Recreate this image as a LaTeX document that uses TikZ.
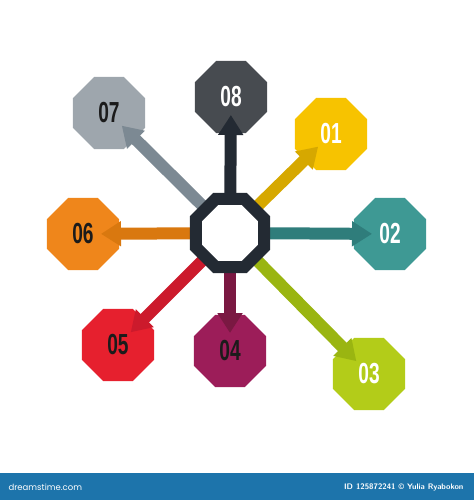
\documentclass[tikz,border=0pt]{standalone}
\usepackage{fontspec}
\usetikzlibrary{shapes.geometric,arrows.meta,calc}
\newfontfamily\numfont[FakeStretch=0.66]{Liberation Sans}
\newfontfamily\barfont{Poppins}
\definecolor{hubc}{HTML}{232A33}
\definecolor{grayc}{HTML}{474B50}
\definecolor{yellowc}{HTML}{F7C300}
\definecolor{yellowa}{HTML}{D6A800}
\definecolor{tealc}{HTML}{3E9994}
\definecolor{teala}{HTML}{2F7D7B}
\definecolor{limec}{HTML}{B3CC19}
\definecolor{limea}{HTML}{9AB511}
\definecolor{plumc}{HTML}{9C1D59}
\definecolor{pluma}{HTML}{7A1842}
\definecolor{redc}{HTML}{E6202E}
\definecolor{reda}{HTML}{CC1A2C}
\definecolor{orangec}{HTML}{EF861B}
\definecolor{orangea}{HTML}{D9780F}
\definecolor{silverc}{HTML}{9EA6AD}
\definecolor{silvera}{HTML}{7C8993}
\definecolor{inkc}{HTML}{1B1B1B}
\definecolor{barc}{HTML}{1D74AB}
\tikzset{
    oct/.style={regular polygon,regular polygon sides=8,minimum size=78pt,inner sep=0pt,fill=#1},
    num/.style={font=\numfont\bfseries\fontsize{29}{29}\selectfont,text=#1},
    spoke/.style={line width=12pt,draw=#1,-{Triangle[length=20pt,width=24pt,fill=#1]}}
}

\begin{document}
\begin{tikzpicture}[x=1pt,y=-1pt]
        \useasboundingbox (0,0) rectangle (474,500);
        \coordinate (c) at (230,233);
        \node[oct=yellowc,num=white] (n1) at (331,134) {01};
        \node[oct=tealc,num=white] (n2) at (390,234) {02};
        \node[oct=limec,num=white] (n3) at (369,374) {03};
        \node[oct=plumc,num=inkc] (n4) at (230,351) {04};
        \node[oct=redc,num=inkc] (n5) at (118,345) {05};
        \node[oct=orangec,num=inkc] (n6) at (83,234) {06};
        \node[oct=silverc,num=inkc] (n7) at (109,113) {07};
        \node[oct=grayc,num=white] (n8) at (231,97) {08};
        \foreach \i/\col in {1/yellowa,2/teala,3/limea,4/pluma,5/reda,6/orangea,7/silvera,8/hubc}
            \draw[spoke=\col] (c) -- ($(n\i)!18pt!(c)$);
        \node[regular polygon,regular polygon sides=8,minimum size=74pt,inner sep=0pt,
            draw=hubc,line width=12pt,fill=white] (hub) at (c) {};
        \fill[barc] (0,473) rectangle (474,500);
        \node[anchor=west,text=white,font=\barfont\fontsize{8.5}{9}\selectfont] (site) at (5,487) {dreamstime.com};
        \node[anchor=east,text=white,font=\sffamily\bfseries\fontsize{8}{9}\selectfont] (credit) at (467,487) {ID 125872241 \textcopyright{} Yulia Ryabokon};
\end{tikzpicture}
\end{document}
